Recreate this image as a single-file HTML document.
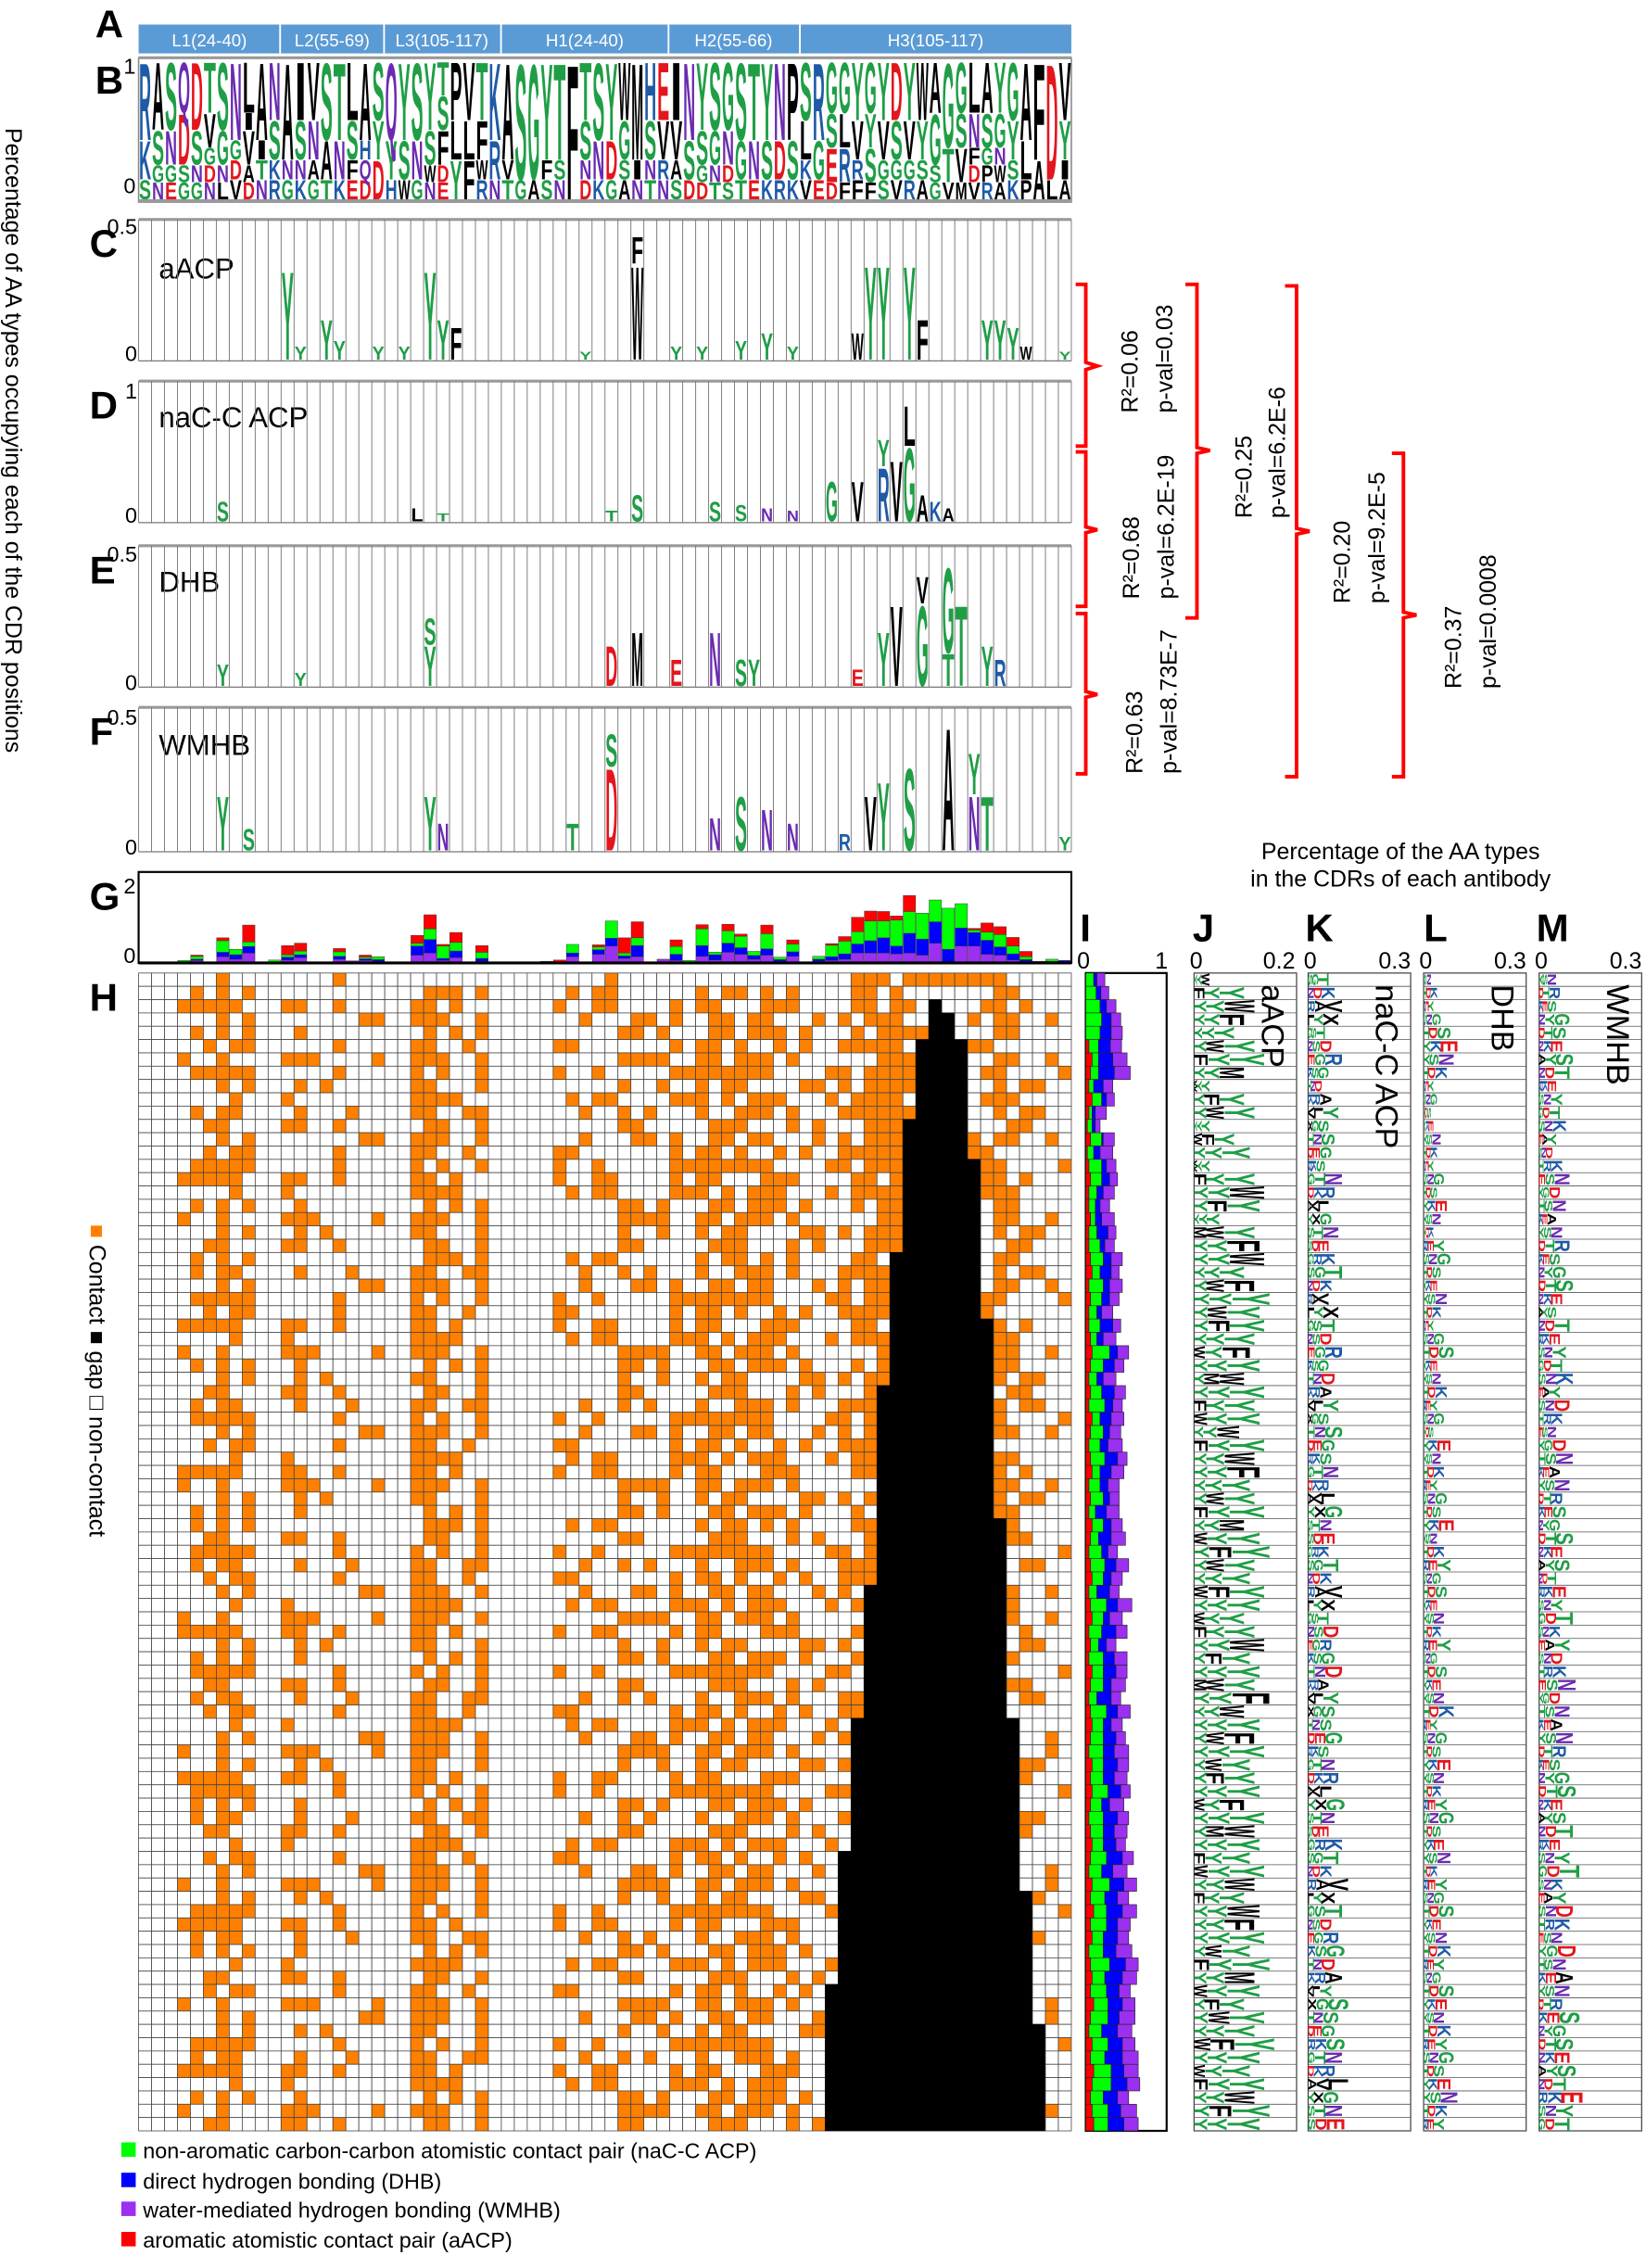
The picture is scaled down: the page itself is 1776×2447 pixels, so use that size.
<!DOCTYPE html>
<html><head><meta charset="utf-8"><style>
html,body{margin:0;padding:0;background:#fff;}
svg{display:block;font-family:"Liberation Sans",Arial,sans-serif;}
</style></head><body>
<svg id="fig" width="1776" height="2447" viewBox="0 0 1140 1571" preserveAspectRatio="none" xmlns="http://www.w3.org/2000/svg">
<rect x="0" y="0" width="1140" height="1571" fill="#fff"/>
<text transform="translate(4,305) rotate(90)" text-anchor="middle" font-size="16">Percentage of AA types occupying each of the  CDR positions</text>
<g font-weight="bold" font-size="27">
<text x="66" y="26">A</text>
<text x="66" y="65">B</text>
<text x="62" y="178">C</text>
<text x="62" y="290">D</text>
<text x="62" y="404">E</text>
<text x="62" y="516">F</text>
<text x="62" y="630">G</text>
<text x="62" y="700">H</text>
<text x="748" y="652">I</text>
<text x="826" y="652">J</text>
<text x="904" y="652">K</text>
<text x="986" y="652">L</text>
<text x="1064" y="652">M</text>
</g>
<g>
<rect x="96" y="17" width="646" height="20" fill="#5b9bd5"/>
<g stroke="#fff" stroke-width="1.2"><line x1="194" y1="17" x2="194" y2="37"/><line x1="266" y1="17" x2="266" y2="37"/><line x1="347" y1="17" x2="347" y2="37"/><line x1="463" y1="17" x2="463" y2="37"/><line x1="554" y1="17" x2="554" y2="37"/></g>
<g fill="#fff" font-size="12" text-anchor="middle">
<text x="145" y="32">L1(24-40)</text>
<text x="230" y="32">L2(55-69)</text>
<text x="306" y="32">L3(105-117)</text>
<text x="405" y="32">H1(24-40)</text>
<text x="508" y="32">H2(55-66)</text>
<text x="648" y="32">H3(105-117)</text>
</g></g>
<g font-size="15" text-anchor="end">
<text x="94" y="51">1</text><text x="94" y="134">0</text>
<text x="95" y="162">0.5</text><text x="95" y="250">0</text>
<text x="95" y="276">1</text><text x="95" y="362">0</text>
<text x="95" y="389">0.5</text><text x="95" y="478">0</text>
<text x="95" y="502">0.5</text><text x="95" y="592">0</text>
<text x="94" y="619">2</text><text x="94" y="667">0</text>
</g>
<g font-size="20">
<text x="110" y="193">aACP</text>
<text x="110" y="296">naC-C ACP</text>
<text x="110" y="410">DHB</text>
<text x="110" y="523">WMHB</text>
</g>
<g fill="none" stroke="#ff0000" stroke-width="2.5">
<path d="M745,197 L752,197 L752,251 L760,253.5 L752,256 L752,309 L745,309"/>
<path d="M745,313 L752,313 L752,365 L760,367 L752,369 L752,420 L745,420"/>
<path d="M745,425 L752,425 L752,479 L760,481 L752,483 L752,536 L745,536"/>
<path d="M821,197 L829,197 L829,310 L838,312 L829,314 L829,428 L821,428"/>
<path d="M890,198 L898,198 L898,366 L907,368 L898,370 L898,538 L890,538"/>
<path d="M964,314 L972,314 L972,424 L981,426 L972,428 L972,538 L964,538"/>
</g>
<g font-size="16">
<text transform="translate(788,286) rotate(-90)">R²=0.06</text>
<text transform="translate(812,286) rotate(-90)">p-val=0.03</text>
<text transform="translate(789,415) rotate(-90)">R²=0.68</text>
<text transform="translate(813,415) rotate(-90)">p-val=6.2E-19</text>
<text transform="translate(791,536) rotate(-90)">R²=0.63</text>
<text transform="translate(815,536) rotate(-90)">p-val=8.73E-7</text>
<text transform="translate(867,359) rotate(-90)">R²=0.25</text>
<text transform="translate(890,359) rotate(-90)">p-val=6.2E-6</text>
<text transform="translate(935,418) rotate(-90)">R²=0.20</text>
<text transform="translate(959,418) rotate(-90)">p-val=9.2E-5</text>
<text transform="translate(1012,477) rotate(-90)">R²=0.37</text>
<text transform="translate(1036,477) rotate(-90)">p-val=0.0008</text>
</g>
<g font-size="16" text-anchor="middle">
<text x="970" y="595">Percentage of the AA types</text>
<text x="970" y="614">in the CDRs of each antibody</text>
</g>
<g font-size="16">
<text x="746" y="671">0</text><text x="800" y="671">1</text>
<text x="824" y="671">0</text><text x="897" y="671" text-anchor="end">0.2</text>
<text x="903" y="671">0</text><text x="977" y="671" text-anchor="end">0.3</text>
<text x="983" y="671">0</text><text x="1057" y="671" text-anchor="end">0.3</text>
<text x="1063" y="671">0</text><text x="1137" y="671" text-anchor="end">0.3</text>
</g>
<text transform="translate(62,848) rotate(90)" font-size="16"><tspan fill="#ff8000">■</tspan> Contact <tspan fill="#000">■</tspan> gap <tspan>□</tspan> non-contact</text>
<g font-size="15">
<rect x="84" y="1484" width="10" height="10" fill="#00ff00"/>
<text x="99" y="1495">non-aromatic carbon-carbon atomistic contact pair (naC-C ACP)</text>
<rect x="84" y="1505" width="10" height="10" fill="#0000ff"/>
<text x="99" y="1516">direct hydrogen bonding (DHB)</text>
<rect x="84" y="1525" width="10" height="10" fill="#9b30f0"/>
<text x="99" y="1536">water-mediated hydrogen bonding (WMHB)</text>
<rect x="84" y="1546" width="10" height="10" fill="#ff0000"/>
<text x="99" y="1557">aromatic atomistic contact pair (aACP)</text>
</g>
<g id="dyn"></g>
</svg>
<script>
const bStacks = ["RRRRKKS","AAAASSGN","SSSSNNGE","QQQDDDSG","DDDDSSNG","TTTVVGDN","SSSSGGNL","NNNNGDV","LLLIVVAD","AAAAITN","NNNSSKR","AAAAANG","IIISSNK","VVVNNAG","SSSSAAT","TTTTNNK","LLLSSFE","AAAAHQD","SSSYYDD","QQQQYYH","YYYYSSW","SSSSNNG","YYYYSSWN","TTSSFFDE","PPPLLYY","VVVLLFF","TTTFFWR","KKKKRRN","AAAAAVT","SSSSSSG","GGGGGGA","YYYYYFS","TTTTTSN","FFFFFFF","TTTSSND","SSSSNNK","YYYYDDG","WWWGGSA","MMMMMIN","HHHSSNT","EEEVVRN","IIIVVAS","NNNNSSD","YYYYSSGD","SSSSGGNT","GGGGNNDS","SSSSGGT","TTTTNNE","YYYYSSK","NNNNDDR","PPPPSSK","SSSLLKV","RRRRGGE","GGGSSEED","GGGLLRRF","YYYVVRF","GGGYYSSF","YYYVVGS","DDDSSGV","YYYVVGR","WWWYYSA","AAAGGGSG","GGGGGTTV","GGGSSVVM","LLLNNFDV","AAASSGPR","YYYGGNWA","GGGYYSK","AAAALLP","FFFFFAA","DDDDDDL","VVVYYIA"];
const aacpCols = [11,12,14,15,18,20,22,23,24,34,38,38,41,43,46,48,50,55,56,57,59,60,65,66,67,68,71];
const aacpAA   = "YYYYYYYYFYWFYYYYYWYYYFYYYWY";
const aacpVals = [0.33,0.05,0.15,0.07,0.05,0.05,0.33,0.15,0.12,0.03,0.35,0.1,0.05,0.05,0.07,0.1,0.05,0.1,0.35,0.35,0.35,0.15,0.15,0.15,0.12,0.05,0.03];
const naccCols = [59,59,58,57,57,53,55,38,6,21,44,46,48,50,36,23,60,61,62];
const naccAA   = "GLVRYGVSSLSSNNTTAKA";
const naccVals = [0.55,0.3,0.45,0.4,0.2,0.3,0.3,0.2,0.15,0.1,0.15,0.12,0.1,0.08,0.08,0.06,0.2,0.15,0.1];
const dhbCols = [62,62,60,60,58,57,63,65,66,22,22,36,38,44,41,46,47,6,12,55];
const dhbAA   = "TGGVVYTYRYSDMNESYYYE";
const dhbVals = [0.12,0.32,0.3,0.1,0.3,0.2,0.3,0.15,0.1,0.15,0.1,0.15,0.2,0.2,0.1,0.1,0.1,0.08,0.05,0.06];
const wmhbCols = [36,36,62,64,64,65,59,57,56,6,22,23,46,44,48,50,71,8,33,54];
const wmhbAA   = "DSANYTSYVYYNSNNNYSTR";
const wmhbVals = [0.3,0.12,0.45,0.2,0.15,0.2,0.3,0.25,0.2,0.2,0.2,0.1,0.2,0.12,0.15,0.1,0.05,0.08,0.1,0.06];
const gPurple = [0,0,0,.03,.06,.02,.15,.09,.24,0, .02,.07,.13,0,0,.09,.05,.06,.04,0, 0,.19,.24,.06,.13,0,.04,0,0,0, 0,.04,0,.15,0,.21,.41,.11,.15,0, .09,.06,0,.16,.07,.26,.21,.09,.19,.04, .16,0,.04,.06,.09,.24,.24,.24,.22,.24, .19,.48,0,.41,.41,.21,.19,.07,.04,0, 0,.03];
const gBlue = [0,0,0,0,.03,0,.11,.11,.16,0, 0,.07,.07,0,0,.07,0,.04,.04,0, 0,.22,.33,.05,.16,0,.07,0,0,0, 0,0,0,.09,0,.11,.19,.06,.27,0, 0,.15,0,.26,.13,.22,.16,.09,.15,.04, .11,0,.05,.09,.13,.22,.3,.37,.19,.48, .39,.52,.33,.44,.33,.34,.2,.15,.04,0, .04,.03];
const gGreen = [0,0,0,.03,.07,0,.28,.13,.11,0, .05,.06,.09,0,0,.11,0,.04,.07,0, 0,.07,.26,.3,.21,0,.15,0,0,0, 0,0,0,.21,0,.07,.42,.07,.19,0, 0,.19,.06,.41,.06,.3,.28,.1,.37,.06, .19,0,.07,.28,.31,.3,.48,.41,.63,.53, .63,.53,1.0,.59,.06,.2,.3,.19,.07,0, .05,0];
const gRed = [0,0,0,0,.03,0,.07,0,.41,0, 0,.22,.19,0,0,.08,0,.05,0,0, 0,.19,.34,.04,.24,0,.16,0,0,0, 0,0,.07,0,0,.05,0,.37,.39,0, 0,.16,0,.1,0,.16,.05,0,.21,0, .1,0,0,.04,.11,.35,.24,.23,.1,.39, 0,0,0,0,.04,.22,.19,.21,.13,.04, 0,0];
const contactPatterns = [
"000000100000000100000000000000000000100000000000000000011101111111100000",
"000010101000000000000011101000000101100000010110101000011010000000110000",
"000111110001100100000110100000001001100001011000111000011011000001101000",
"000000101000000001100111001000000010001101001101100010101110000010110010",
"000010101000100000000010101000000000011010001101110100010111100000110000",
"000001011000000100000110010000001100000001011010010100111110000011000000",
"000100100001110000100111001000000000011110011011101000000111100000110010",
"000011111000000100000101001000001001000001111111100001101111000001100001",
"000000101000101000000110001000000000010010010110000110101111100000101100",
"000000010001000000000111100000000101100001110101110001011110000001110000",
"000010110000100010000110011000000010010100010011101000111111100000101100",
"000001100001100100000011001000000000011000001110001010001111100000011000"];
const rowPattern = [0,1,2,3,4,5,6,7,8,9, 10,11,3,5,7,2,9,4,6,8, 11,1,10,3,7,5,2,9,6,4, 8,11,10,7,3,5,9,2,6,8, 4,1,11,7,10,5,3,9,6,2, 8,4,7,11,10,5,9,3,6,8, 2,7,4,10,11,9,5,3,6,8, 7,2,10,4,9,11,5,6,3,8, 7,10,2,9,4,6,11];
const gapStart = [-1,-1,61,61,61,60,60,60,60,60, 60,59,59,59,59,59,59,59,59,59, 59,58,58,58,58,58,58,58,58,58, 58,57,57,57,57,57,57,57,57,57, 57,57,57,57,57,57,56,56,56,56, 56,56,56,56,56,56,55,55,55,55, 55,55,55,55,55,55,54,54,54,54, 54,54,54,54,54,54,53,53,53,53, 53,53,53,53,53,53,53];
const gapEnd = [-1,-1,61,62,62,63,63,63,63,63, 63,63,63,63,64,64,64,64,64,64, 64,64,64,64,64,64,65,65,65,65, 65,65,65,65,65,65,65,65,65,65, 65,66,66,66,66,66,66,66,66,66, 66,66,66,66,66,66,67,67,67,67, 67,67,67,67,67,67,67,67,67,68, 68,68,68,68,68,68,68,68,68,69, 69,69,69,69,69,69,69];
const iRed = [0,0,0,0,0,0.04,0.08,0.06,0.04,0.08, 0.04,0.02,0.06,0.02,0.04,0.06,0.04,0.04,0.06,0.04, 0.04,0.06,0.08,0.04,0.06,0.04,0.04,0.06,0.08,0.06, 0.04,0.06,0.04,0.08,0.06,0.04,0.06,0.08,0.04,0.06, 0.04,0.08,0.06,0.04,0.06,0.08,0.04,0.06,0.08,0.04, 0.06,0.04,0.08,0.06,0.04,0.06,0.08,0.06,0.04,0.08, 0.06,0.08,0.06,0.04,0.06,0.08,0.06,0.04,0.08,0.06, 0.1,0.06,0.08,0.04,0.06,0.08,0.06,0.1,0.06,0.04, 0.08,0.06,0.1,0.08,0.06,0.08,0.1];
const iGreen = [0.1,0.13,0.18,0.2,0.18,0.12,0.08,0.1,0.06,0.12, 0.04,0.06,0.14,0.08,0.16,0.14,0.1,0.08,0.06,0.1, 0.14,0.16,0.1,0.18,0.14,0.1,0.14,0.08,0.22,0.16, 0.1,0.14,0.2,0.1,0.16,0.14,0.18,0.1,0.14,0.16, 0.08,0.14,0.1,0.16,0.18,0.14,0.1,0.2,0.14,0.16, 0.1,0.18,0.14,0.16,0.1,0.2,0.14,0.16,0.18,0.14, 0.16,0.2,0.14,0.18,0.16,0.14,0.2,0.16,0.22,0.18, 0.16,0.2,0.14,0.18,0.24,0.16,0.2,0.18,0.22,0.16, 0.2,0.18,0.22,0.24,0.16,0.2,0.18];
const iBlue = [0.04,0.06,0.08,0.12,0.14,0.15,0.18,0.2,0.12,0.06, 0.04,0.04,0.02,0.08,0.06,0.1,0.08,0.06,0.08,0.14, 0.06,0.1,0.14,0.08,0.1,0.06,0.16,0.08,0.1,0.14, 0.08,0.16,0.1,0.14,0.08,0.1,0.16,0.14,0.1,0.08, 0.14,0.1,0.16,0.08,0.14,0.1,0.16,0.14,0.08,0.18, 0.1,0.14,0.16,0.1,0.18,0.14,0.1,0.16,0.14,0.18, 0.14,0.16,0.1,0.18,0.14,0.16,0.2,0.14,0.18,0.16, 0.2,0.14,0.18,0.16,0.2,0.22,0.16,0.18,0.14,0.2, 0.18,0.22,0.16,0.2,0.18,0.16,0.2];
const iPurple = [0.1,0.1,0.12,0.12,0.14,0.14,0.18,0.2,0.12,0.1, 0.14,0.06,0.14,0.16,0.12,0.1,0.14,0.12,0.16,0.1, 0.12,0.14,0.1,0.16,0.12,0.14,0.1,0.16,0.14,0.12, 0.16,0.14,0.12,0.16,0.14,0.18,0.12,0.16,0.14,0.12, 0.16,0.14,0.18,0.12,0.16,0.14,0.12,0.18,0.16,0.14, 0.12,0.16,0.14,0.18,0.12,0.16,0.14,0.12,0.18,0.14, 0.16,0.12,0.18,0.14,0.16,0.12,0.14,0.18,0.16,0.14, 0.18,0.16,0.14,0.2,0.16,0.18,0.14,0.16,0.2,0.18, 0.16,0.2,0.18,0.16,0.14,0.2,0.18];
const jAA = "YYWFYYYYWYYFYYYYWYFYYYYMWYYYFYYWYY";
const kAA = "SGTNDKRAVLYXGSTNSDEGRK";
const lAA = "YSNTDKREYSNGTDSYKE";
const mAA = "YSNDTRKESNYGDTSNKEA";
const jVal = [0.03,0.1,0.12,0.1,0.08,0.12,0.14,0.1,0.03,0.1, 0.12,0.03,0.08,0.11,0.03,0.12,0.14,0.13,0.05,0.12, 0.13,0.14,0.1,0.12,0.15,0.13,0.14,0.12,0.11,0.13, 0.1,0.14,0.12,0.13,0.09,0.14,0.12,0.13,0.11,0.12, 0.14,0.1,0.13,0.15,0.12,0.11,0.14,0.13,0.1,0.12, 0.14,0.11,0.13,0.12,0.15,0.1,0.13,0.12,0.14,0.11, 0.12,0.13,0.1,0.14,0.12,0.13,0.11,0.14,0.12,0.1, 0.13,0.12,0.14,0.11,0.15,0.12,0.13,0.1,0.14,0.12, 0.16,0.13,0.11,0.14,0.12,0.15,0.13];
const kVal = [0.06,0.08,0.1,0.09,0.05,0.07,0.1,0.06,0.04,0.07, 0.09,0.06,0.08,0.07,0.05,0.1,0.08,0.06,0.07,0.09, 0.06,0.08,0.1,0.07,0.06,0.09,0.08,0.07,0.1,0.06, 0.08,0.07,0.09,0.06,0.1,0.08,0.07,0.09,0.06,0.08, 0.1,0.07,0.08,0.06,0.09,0.07,0.1,0.08,0.06,0.09, 0.07,0.08,0.1,0.06,0.09,0.08,0.07,0.1,0.06,0.08, 0.09,0.07,0.11,0.08,0.06,0.1,0.09,0.07,0.12,0.08, 0.1,0.07,0.09,0.11,0.08,0.1,0.07,0.12,0.09,0.08, 0.11,0.1,0.08,0.12,0.09,0.1,0.11];
const lVal = [0.02,0.04,0.03,0.05,0.08,0.1,0.09,0.07,0.03,0.04, 0.02,0.03,0.05,0.04,0.03,0.06,0.04,0.07,0.05,0.03, 0.06,0.08,0.05,0.04,0.07,0.05,0.03,0.06,0.09,0.04, 0.05,0.07,0.04,0.06,0.03,0.08,0.05,0.06,0.04,0.07, 0.05,0.09,0.04,0.06,0.08,0.05,0.07,0.04,0.06,0.05, 0.08,0.04,0.07,0.05,0.06,0.09,0.04,0.07,0.05,0.08, 0.06,0.05,0.07,0.09,0.05,0.06,0.08,0.04,0.07,0.06, 0.09,0.05,0.07,0.08,0.06,0.05,0.09,0.07,0.06,0.08, 0.07,0.09,0.06,0.08,0.1,0.07,0.06];
const mVal = [0.05,0.06,0.05,0.09,0.08,0.07,0.1,0.09,0.05,0.07, 0.06,0.08,0.05,0.04,0.07,0.09,0.06,0.08,0.05,0.07, 0.09,0.06,0.08,0.1,0.07,0.05,0.09,0.06,0.08,0.07, 0.1,0.06,0.09,0.07,0.05,0.08,0.1,0.06,0.09,0.07, 0.08,0.06,0.1,0.07,0.09,0.05,0.08,0.07,0.1,0.06, 0.09,0.07,0.08,0.11,0.06,0.09,0.07,0.1,0.08,0.06, 0.09,0.11,0.07,0.08,0.1,0.06,0.09,0.12,0.07,0.08, 0.1,0.09,0.07,0.11,0.08,0.1,0.09,0.07,0.12,0.08, 0.1,0.09,0.11,0.08,0.13,0.1,0.09];

const NS="http://www.w3.org/2000/svg";
const root=document.getElementById('dyn');
const NC=72, NR=87, X0=96, X1=742, CW=(X1-X0)/NC;
const HY0=674, HY1=1476, RH=(HY1-HY0)/NR;
const colX=c=>X0+c*CW;
const rowY=r=>HY0+r*RH;
function el(tag,attrs,parent){const e=document.createElementNS(NS,tag);for(const k in attrs)e.setAttribute(k,attrs[k]);(parent||root).appendChild(e);return e;}
function aaColor(ch){
  if("GSTYC".includes(ch))return "#1f9e46";
  if("NQ".includes(ch))return "#6a2bb0";
  if("KRH".includes(ch))return "#1f5aa6";
  if("DE".includes(ch))return "#e3161d";
  return "#000";
}
function letter(ch,x,yb,w,h,parent){
  if(h<0.4||w<0.3)return;
  const t=el('text',{x:0,y:0,'font-size':10,'font-weight':'bold',textLength:6.2,lengthAdjust:'spacingAndGlyphs',fill:aaColor(ch),transform:`translate(${x},${yb}) scale(${w/6.2},${h/7.2})`},parent);
  t.textContent=ch;
  
  
}
function rletter(ch,x0,y0,w,h,parent){
  if(w<0.4)return;
  const t=el('text',{x:0,y:0,'font-size':10,'font-weight':'bold',textLength:6.2,lengthAdjust:'spacingAndGlyphs',fill:aaColor(ch),transform:`translate(${x0},${y0}) rotate(90) scale(${h/6.2},${w/7.2})`},parent);
  t.textContent=ch;
  
  
}

const gB=el('g',{});


el('rect',{x:X0,y:40,width:X1-X0,height:100,fill:'none',stroke:'#888','stroke-width':1},gB);
el('line',{x1:X0,y1:40,x2:X1,y2:40,stroke:'#999','stroke-width':2},gB);
const bTop=42,bBot=138;
bStacks.forEach((s,c)=>{
  const runs=[];for(const ch of s){if(runs.length&&runs[runs.length-1][0]===ch)runs[runs.length-1][1]++;else runs.push([ch,1]);}
  let y=bBot;const tot=s.length;
  for(let i=runs.length-1;i>=0;i--){const h=(bBot-bTop)*runs[i][1]/tot;letter(runs[i][0],colX(c)+0.3,y,CW-0.6,h,gB);y-=h;}
});
el('line',{x1:X0,y1:139,x2:X1,y2:139,stroke:'#999','stroke-width':2},gB);

function logoPanel(name,top,bottom,maxv,cols,aa,vals){
  const g=el('g',{});
  
  
  el('line',{x1:X0,y1:top,x2:X1,y2:top,stroke:'#999','stroke-width':2},g);
  for(let c=0;c<=NC;c++){
    const l=el('line',{x1:colX(c),y1:top,x2:colX(c),y2:bottom,stroke:'#777','stroke-width':0.6},g);
    
    
  }
  el('line',{x1:X0,y1:bottom,x2:X1,y2:bottom,stroke:'#777','stroke-width':0.8},g);
  const base=bottom-1, H=bottom-top-3;
  const stack={};
  cols.forEach((c,i)=>{const h=vals[i]/maxv*H;const yb=base-(stack[c]||0);letter(aa[i],colX(c)+0.3,yb,CW-0.6,h,g);stack[c]=(stack[c]||0)+h;});
}
logoPanel('logo-aacp',152,250,0.5,aacpCols,aacpAA,aacpVals);
logoPanel('logo-nacc-acp',264,362,1,naccCols,naccAA,naccVals);
logoPanel('logo-dhb',378,476,0.5,dhbCols,dhbAA,dhbVals);
logoPanel('logo-wmhb',490,590,0.5,wmhbCols,wmhbAA,wmhbVals);

const gG=el('g',{});


const GY0=667, GPX=28.5;
const yG=v=>GY0-v*GPX;
el('rect',{x:X0,y:604,width:X1-X0,height:63,fill:'none',stroke:'#000','stroke-width':1.4},gG);
const gSeries=[[gPurple,'#9b30f0','bar-wmhb'],[gBlue,'#0000ff','bar-dhb'],[gGreen,'#00ff00','bar-nacc'],[gRed,'#ff0000','bar-aacp']];
for(let c=0;c<NC;c++){
  let acc=0;
  gSeries.forEach(([arr,col,nm])=>{
    const v=arr[c]||0;if(v<=0)return;
    const r=el('rect',{x:colX(c)+0.2,y:yG(acc+v),width:CW-0.4,height:v*GPX,fill:col,stroke:'#333','stroke-width':0.3},gG);
    
    
    acc+=v;
  });
}
el('line',{x1:X0,y1:GY0,x2:X1,y2:GY0,stroke:'#000','stroke-width':2},gG);

const gH=el('g',{});


for(let r=0;r<NR;r++){
  const pat=contactPatterns[rowPattern[r]];
  for(let c=0;c<NC;c++){
    const isGap=gapStart[r]>=0&&c>=gapStart[r]&&c<=gapEnd[r];
    const isC=pat[c]==='1';
    const fill=isGap?'#000':(isC?'#ff8000':'#fff');
    const rc=el('rect',{x:colX(c),y:rowY(r),width:CW,height:RH,fill:fill,stroke:isGap?'#000':'#444','stroke-width':0.5},gH);
    
    
  }
}

const gI=el('g',{});


const IX0=752, IPX=55;
const xI=v=>IX0+v*IPX;
el('rect',{x:IX0,y:HY0,width:56,height:HY1-HY0,fill:'none',stroke:'#000','stroke-width':1.4},gI);
const iSeries=[[iRed,'#ff0000','ibar-aacp'],[iGreen,'#00ff00','ibar-nacc'],[iBlue,'#0000ff','ibar-dhb'],[iPurple,'#9b30f0','ibar-wmhb']];
for(let r=0;r<NR;r++){
  let acc=0;
  iSeries.forEach(([arr,col,nm])=>{
    const v=arr[r]||0;if(v<=0)return;
    const b=el('rect',{x:xI(acc),y:rowY(r),width:v*IPX,height:RH,fill:col,stroke:'#222','stroke-width':0.4},gI);
    
    
    acc+=v;
  });
}

function rowLogo(name,label,bx,maxv,aa,vals){
  const W=71;
  const g=el('g',{});
  
  
  el('rect',{x:bx,y:HY0,width:W,height:HY1-HY0,fill:'none',stroke:'#444','stroke-width':0.8},g);
  const xs=v=>bx+v/maxv*W;
  for(let r=0;r<NR;r++){
    const l=el('line',{x1:bx,y1:rowY(r),x2:bx+W,y2:rowY(r),stroke:'#555','stroke-width':0.5},g);
    
    
    const v=vals[r]||0;const wts=[0.2,0.3,0.5];let acc=0;
    for(let k=0;k<3;k++){
      const ch=aa[(r*3+k)%aa.length];const seg=v*wts[k];
      rletter(ch,xs(acc),rowY(r)+0.3,xs(acc+seg)-xs(acc),RH-0.6,g);acc+=seg;
    }
  }
  const t=el('text',{transform:`translate(${bx+W-24},${HY0+8}) rotate(90)`,'font-size':22},g);
  t.textContent=label;
  
  
}
rowLogo('row-logo-aacp','aACP',827,0.2,jAA,jVal);
rowLogo('row-logo-nacc','naC-C ACP',906,0.3,kAA,kVal);
rowLogo('row-logo-dhb','DHB',986,0.3,lAA,lVal);
rowLogo('row-logo-wmhb','WMHB',1066,0.3,mAA,mVal);
</script>
</body></html>
